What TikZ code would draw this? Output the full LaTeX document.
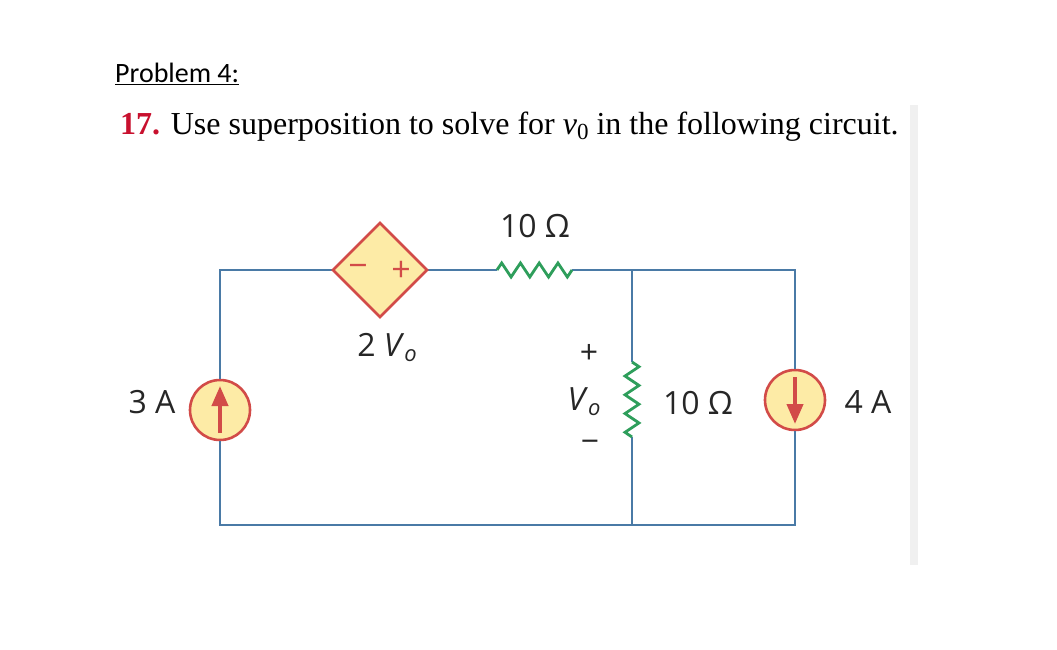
\documentclass[tikz,border=0pt]{standalone}
\usepackage{fontspec}
\setmainfont{Liberation Serif}
\newfontfamily\lab{Open Sans}
\newfontfamily\calfont{Carlito}
\usetikzlibrary{decorations.pathmorphing,arrows.meta}
\definecolor{wire}{HTML}{4A7AA6}
\definecolor{srcfill}{HTML}{FDEBA6}
\definecolor{srcline}{HTML}{D24B48}
\definecolor{res}{HTML}{2E9E5B}
\definecolor{red17}{HTML}{C8102E}
\begin{document}
\begin{tikzpicture}[x=1pt,y=-1pt,
  w/.style={draw=wire,line width=2.8pt},
  rz/.style={draw=res,line width=2.8pt,decorate,decoration={zigzag,segment length=18.75pt,amplitude=7pt,pre length=0pt,post length=0pt}},
  src/.style={circle,draw=srcline,fill=srcfill,line width=2.6pt,minimum size=60pt,inner sep=0pt},
  lbl/.style={font=\lab\fontsize{32}{32}\selectfont,text=black!85,inner sep=0pt}]
\useasboundingbox (0,0) rectangle (1057,650);
\fill[black!6] (910,105) rectangle (918,565);
\node[anchor=west,inner sep=0pt] (prob) at (115,74) {\calfont\fontsize{28}{28}\selectfont\underline{Problem 4:}};
\node[anchor=west,inner sep=0pt] (q) at (120,127) {\fontsize{32}{32}\selectfont\textcolor{red17}{\textbf{17.}} Use superposition to solve for \textit{v}\raisebox{-5pt}{\fontsize{23}{23}\selectfont 0} in the following circuit.};
\coordinate (tl) at (220,270); \coordinate (bl) at (220,525);
\coordinate (tm) at (632,270); \coordinate (bm) at (632,525);
\coordinate (tr) at (795,270); \coordinate (br) at (795,525);
\coordinate (dl) at (333,270); \coordinate (dr) at (427,270);
\coordinate (r1a) at (497,270); \coordinate (r1b) at (572,270);
\coordinate (r2a) at (632,362); \coordinate (r2b) at (632,437);
\node[src] (s3) at (220,410) {};
\node[src] (s4) at (795,400) {};
\draw[w] (s3.north) -- (tl) -- (dl);
\draw[w] (dr) -- (r1a);
\draw[w] (r1b) -- (tr) -- (s4.north);
\draw[w] (s4.south) -- (br) -- (bl) -- (s3.south);
\draw[w] (tm) -- (r2a);
\draw[w] (r2b) -- (bm);
\draw[rz] (r1a) -- (r1b);
\draw[rz] (r2a) -- (r2b);
\filldraw[draw=srcline,fill=srcfill,line width=2.6pt] (dl) -- (380,223) -- (dr) -- (380,317) -- cycle;
\node[text=srcline,font=\lab\fontsize{34}{34}\selectfont] (mi) at (358,271) {\textminus};
\node[text=srcline,font=\lab\fontsize{34}{34}\selectfont] (pl) at (401,271) {+};
\draw[srcline,line width=4pt,-{Triangle[length=20pt,width=16pt]}] (220,433) -- (220,386);
\draw[srcline,line width=4pt,-{Triangle[length=20pt,width=16pt]}] (795,377) -- (795,424);
\node[lbl] (l10a) at (535,226) {10 Ω};
\node[lbl] (l2v) at (387,347) {2 \textit{V}\raisebox{-5pt}{\fontsize{22}{22}\selectfont\textit{o}}};
\node[lbl] (lp) at (589,354) {+};
\node[lbl] (lv) at (584,402) {\textit{V}\raisebox{-5pt}{\fontsize{22}{22}\selectfont\textit{o}}};
\node[lbl] (lm) at (590,446) {\textminus};
\node[lbl] (l10b) at (698,403) {10 Ω};
\node[lbl] (l3) at (152,402) {3 A};
\node[lbl] (l4) at (868,402) {4 A};
\end{tikzpicture}
\end{document}
